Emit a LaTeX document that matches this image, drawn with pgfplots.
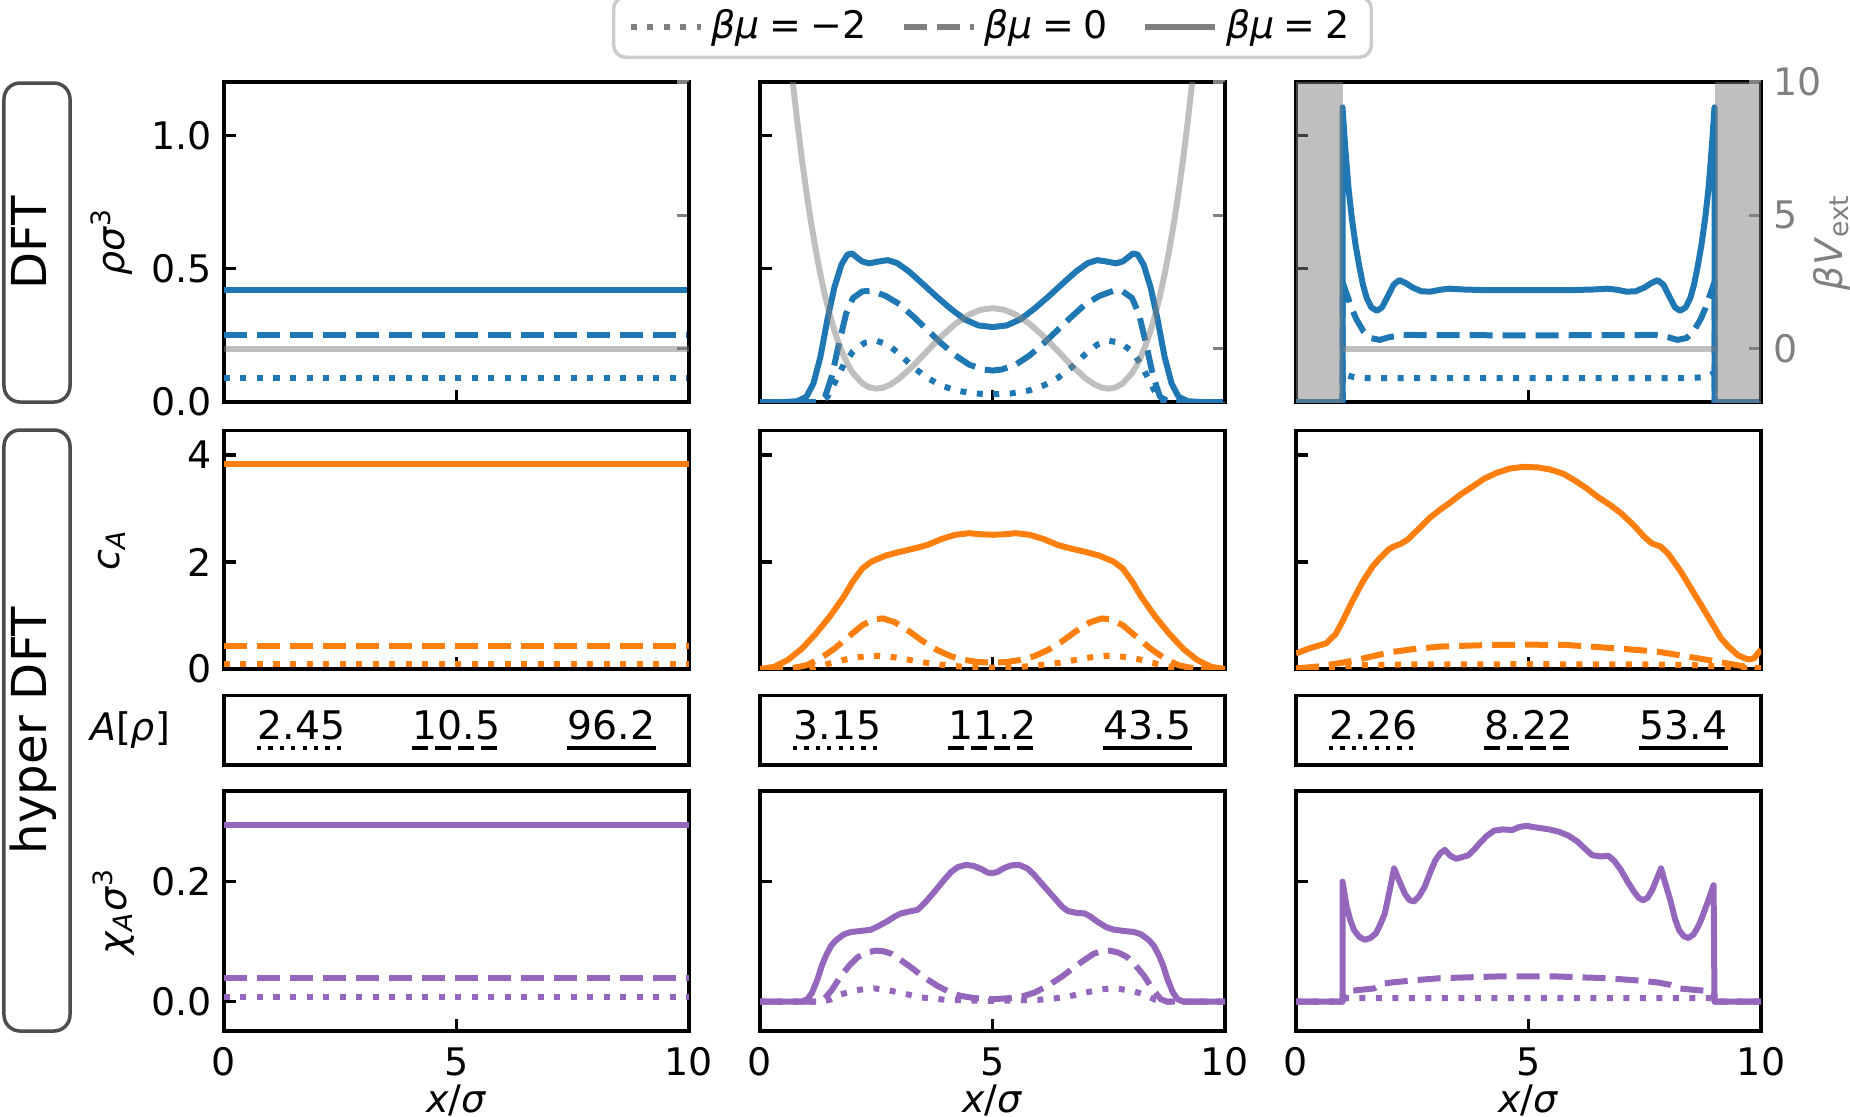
\documentclass[border=0pt]{standalone}
\usepackage{fontspec}
\setmainfont{DejaVu Sans}
\usepackage{pgfplots}
\pgfplotsset{compat=1.18}
\definecolor{C0}{HTML}{1F77B4}
\definecolor{C1}{HTML}{FF7F0E}
\definecolor{C4}{HTML}{9467BD}
\definecolor{grayV}{HTML}{808080}
\definecolor{legframe}{HTML}{CCCCCC}
\definecolor{sideedge}{HTML}{4D4D4D}
\newcommand\fsz{\fontsize{10.8}{13}\selectfont}
\newcommand\fszA{\fontsize{11.2}{13}\selectfont}
\newcommand\fszS{\fontsize{13.7}{16}\selectfont}
\pgfplotsset{
  panel/.style={scale only axis, width=46.5mm, anchor=north west, xmin=0, xmax=10,
    tick align=inside, xtick={0,5,10}, xtick pos=left, ytick pos=left,
    major tick length=1.2mm, major tick style={black, line width=0.95pt},
    axis line style={line width=1.1pt},
    /pgf/number format/assume math mode=true,
    xticklabel style={yshift=-0.4mm},
    ylabel style={at={(axis description cs:-0.241,0.5)}, anchor=center, inner sep=0pt},
    every axis plot/.append style={line width=0.6mm, line cap=butt, line join=round}},
  vax/.style={scale only axis, width=46.5mm, height=32mm, anchor=north west, xmin=0, xmax=10,
    ymin=-2, ymax=10, axis x line=none, axis y line*=right, ytick={0,5,10},
    tick align=inside, major tick length=1.2mm, major tick style={grayV, line width=0.95pt},
    axis line style={-, line width=1.1pt, black}, yticklabel style={grayV},
    /pgf/number format/assume math mode=true,
    every axis plot/.append style={line width=0.6mm, line cap=butt, line join=round}},
  lsol/.style={},
  ldash/.style={dash pattern=on 2.3mm off 1.0mm},
  ldot/.style={dash pattern=on 0.6mm off 1.05mm},
  vline/.style={grayV, opacity=0.5},
  rowone/.style={panel, height=32mm, ymin=0, ymax=1.2, ytick={0,0.5,1}, xticklabels={},
    yticklabel style={/pgf/number format/.cd, fixed, fixed zerofill, precision=1}},
  rowtwo/.style={panel, height=23.85mm, ymin=0, ymax=4.46, ytick={0,2,4}, xticklabels={}},
  rowfour/.style={panel, height=24mm, ymin=-0.049, ymax=0.351, ytick={0,0.2},
    xlabel={\textit{x}/\textit{σ}},
    xlabel style={at={(axis description cs:0.5,0)}, anchor=north, yshift=-4.1mm},
    yticklabel style={/pgf/number format/.cd, fixed, fixed zerofill, precision=1}},
  abox/.style={scale only axis, width=46.5mm, height=6.95mm, anchor=north west,
    xmin=0, xmax=1, ymin=0, ymax=1, ticks=none, axis line style={line width=1.1pt}, clip=false},
}
\begin{document}
\begin{tikzpicture}[font=\fsz]
\path[use as bounding box] (0,0) rectangle (185mm,-111.6mm);

% side labels
\draw[sideedge, line width=0.35mm, rounded corners=1.6mm] (0.4mm,-8.3mm) rectangle (7.0mm,-40.2mm);
\node[rotate=90, inner sep=0pt, text height=0.76em, text depth=0.24em, font=\fszS] at (3.75mm,-24.25mm) {DFT};
\draw[sideedge, line width=0.35mm, rounded corners=1.6mm] (0.4mm,-43.0mm) rectangle (7.0mm,-103.1mm);
\node[rotate=90, inner sep=0pt, text height=0.76em, text depth=0.24em, font=\fszS] at (3.75mm,-73.05mm) {hyper DFT};
\node[inner sep=0pt] at (13.0mm,-73.0mm) {\textit{A}[\textit{ρ}]};

% ================= ROW 1 =================
% col 1
\begin{axis}[rowone, at={(22.4mm,-8.2mm)}, ylabel={\textit{ρσ}\textsuperscript{3}}]
\addplot[C0, lsol] coordinates {(0,0.42) (10,0.42)};
\addplot[C0, ldash] coordinates {(0,0.25) (10,0.25)};
\addplot[C0, ldot] coordinates {(0,0.09) (10,0.09)};
\end{axis}
\begin{axis}[vax, at={(22.4mm,-8.2mm)}, yticklabels={}]
\addplot[vline] coordinates {(0,0) (10,0)};
\end{axis}

% col 2
\begin{axis}[rowone, at={(76.0mm,-8.2mm)}, yticklabels={},
  legend columns=3, legend cell align=left,
  legend image code/.code={\draw[#1] (0mm,0mm) -- (7mm,0mm);},
  legend style={at={(0.5,1)}, anchor=south, yshift=2.3mm, draw=legframe, line width=0.35mm,
    rounded corners=1.2mm, inner xsep=1.4mm, inner ysep=0.2mm, font=\fsz,
    nodes={inner xsep=0.8mm, inner ysep=1.1mm},
    /tikz/every even column/.append style={column sep=2.6mm}}]
\addlegendimage{grayV, line width=0.6mm, line cap=butt, dash pattern=on 0.6mm off 1.05mm}
\addlegendentry{\textit{βμ}\hspace{0.25em}=\hspace{0.25em}−2}
\addlegendimage{grayV, line width=0.6mm, line cap=butt, dash pattern=on 2.3mm off 1.0mm}
\addlegendentry{\textit{βμ}\hspace{0.25em}=\hspace{0.25em}0}
\addlegendimage{grayV, line width=0.6mm, line cap=butt}
\addlegendentry{\textit{βμ}\hspace{0.25em}=\hspace{0.25em}2}
\addplot[C0, lsol] coordinates {(0,0) (0.5,0) (0.8,0.003) (1.0,0.02) (1.15,0.07) (1.3,0.17) (1.45,0.31) (1.6,0.43) (1.75,0.515) (1.88,0.553) (1.98,0.557) (2.1,0.54) (2.2,0.527) (2.35,0.52) (2.55,0.527) (2.75,0.532) (2.95,0.521) (3.2,0.49) (3.5,0.443) (3.8,0.395) (4.1,0.35) (4.4,0.31) (4.7,0.287) (5.0,0.281) (5.3,0.287) (5.6,0.31) (5.9,0.35) (6.2,0.395) (6.5,0.443) (6.8,0.49) (7.05,0.521) (7.25,0.532) (7.45,0.527) (7.65,0.52) (7.8,0.527) (7.9,0.54) (8.02,0.557) (8.12,0.553) (8.25,0.515) (8.4,0.43) (8.55,0.31) (8.7,0.17) (8.85,0.07) (9.0,0.02) (9.2,0.003) (9.5,0) (10,0)};
\addplot[C0, ldash] coordinates {(0,0) (1.2,0) (1.4,0.02) (1.55,0.1) (1.7,0.22) (1.85,0.33) (2.0,0.39) (2.2,0.415) (2.4,0.417) (2.7,0.398) (3.0,0.367) (3.3,0.32) (3.6,0.27) (3.9,0.22) (4.2,0.175) (4.5,0.14) (4.8,0.122) (5.0,0.118) (5.2,0.122) (5.5,0.14) (5.8,0.175) (6.1,0.22) (6.4,0.27) (6.7,0.32) (7.0,0.367) (7.3,0.398) (7.6,0.417) (7.8,0.415) (8.0,0.39) (8.15,0.33) (8.3,0.22) (8.45,0.1) (8.6,0.02) (8.8,0) (10,0)};
\addplot[C0, ldot] coordinates {(0,0) (1.3,0) (1.45,0.02) (1.6,0.07) (1.8,0.14) (2.0,0.19) (2.25,0.222) (2.5,0.23) (2.75,0.215) (3.0,0.18) (3.3,0.13) (3.6,0.09) (3.9,0.062) (4.2,0.044) (4.6,0.032) (5.0,0.029) (5.4,0.032) (5.8,0.044) (6.1,0.062) (6.4,0.09) (6.7,0.13) (7.0,0.18) (7.25,0.215) (7.5,0.23) (7.75,0.222) (8.0,0.19) (8.2,0.14) (8.4,0.07) (8.55,0.02) (8.7,0) (10,0)};
\end{axis}
\begin{axis}[vax, at={(76.0mm,-8.2mm)}, yticklabels={}]
\addplot[vline] coordinates {(0.6,11.79) (0.7,10.08) (0.8,8.53) (0.9,7.12) (1.0,5.85) (1.1,4.71) (1.2,3.69) (1.3,2.78) (1.4,1.98) (1.5,1.28) (1.6,0.68) (1.7,0.16) (1.8,-0.27) (1.9,-0.63) (2.0,-0.92) (2.2,-1.30) (2.35,-1.45) (2.5,-1.5) (2.65,-1.46) (2.8,-1.35) (3.0,-1.11) (3.3,-0.63) (3.6,-0.08) (3.9,0.46) (4.2,0.93) (4.5,1.28) (4.75,1.46) (5.0,1.52) (5.25,1.46) (5.5,1.28) (5.8,0.93) (6.1,0.46) (6.4,-0.08) (6.7,-0.63) (7.0,-1.11) (7.2,-1.35) (7.35,-1.46) (7.5,-1.5) (7.65,-1.45) (7.8,-1.30) (8.0,-0.92) (8.1,-0.63) (8.2,-0.27) (8.3,0.16) (8.4,0.68) (8.5,1.28) (8.6,1.98) (8.7,2.78) (8.8,3.69) (8.9,4.71) (9.0,5.85) (9.1,7.12) (9.2,8.53) (9.3,10.08) (9.4,11.79)};
\end{axis}

% col 3
\begin{axis}[rowone, at={(129.6mm,-8.2mm)}, yticklabels={}]
\addplot[C0, lsol] coordinates {(0,0) (1.0,0) (1.0,1.105) (1.06,0.95) (1.13,0.80) (1.2,0.69) (1.28,0.59) (1.36,0.51) (1.44,0.44) (1.52,0.39) (1.62,0.355) (1.74,0.342) (1.85,0.355) (1.97,0.395) (2.1,0.44) (2.22,0.457) (2.36,0.446) (2.5,0.43) (2.7,0.415) (2.9,0.414) (3.1,0.421) (3.3,0.425) (3.6,0.422) (4.0,0.42) (6.0,0.42) (6.4,0.422) (6.7,0.425) (6.9,0.421) (7.1,0.414) (7.3,0.415) (7.5,0.43) (7.64,0.446) (7.78,0.457) (7.9,0.44) (8.03,0.395) (8.15,0.355) (8.26,0.342) (8.38,0.355) (8.48,0.39) (8.56,0.44) (8.64,0.51) (8.72,0.59) (8.8,0.69) (8.87,0.80) (8.94,0.95) (9.0,1.105) (9.0,0) (10,0)};
\addplot[C0, ldash] coordinates {(0,0) (1.0,0) (1.0,0.45) (1.1,0.40) (1.2,0.35) (1.3,0.31) (1.45,0.265) (1.6,0.24) (1.8,0.233) (2.0,0.243) (2.3,0.252) (2.7,0.251) (5,0.25) (7.3,0.251) (7.7,0.252) (8.0,0.243) (8.2,0.233) (8.4,0.24) (8.55,0.265) (8.7,0.31) (8.8,0.35) (8.9,0.40) (9.0,0.45) (9.0,0) (10,0)};
\addplot[C0, ldot] coordinates {(0,0) (1.0,0) (1.0,0.11) (1.1,0.1) (1.25,0.093) (1.5,0.09) (8.5,0.09) (8.75,0.093) (8.9,0.1) (9.0,0.11) (9.0,0) (10,0)};
\end{axis}
\begin{axis}[vax, at={(129.6mm,-8.2mm)}, ylabel={\textit{βV}\textsubscript{ext}},
  ylabel style={grayV, at={(axis description cs:1.153,0.5)}, anchor=center, inner sep=0pt}]
\addplot[fill=grayV, fill opacity=0.5, draw=none] coordinates {(0,-3) (1,-3) (1,11) (0,11)} -- cycle;
\addplot[fill=grayV, fill opacity=0.5, draw=none] coordinates {(9,-3) (10,-3) (10,11) (9,11)} -- cycle;
\addplot[vline] coordinates {(1,0) (9,0)};
\end{axis}

% ================= ROW 2 =================
\begin{axis}[rowtwo, at={(22.4mm,-43.05mm)}, ylabel={\textit{c}\textsubscript{\textit{A}}}]
\addplot[C1, lsol] coordinates {(0,3.83) (10,3.83)};
\addplot[C1, ldash] coordinates {(0,0.43) (10,0.43)};
\addplot[C1, ldot] coordinates {(0,0.09) (10,0.09)};
\end{axis}
\begin{axis}[rowtwo, at={(76.0mm,-43.05mm)}, yticklabels={}]
\addplot[C1, lsol] coordinates {(0,0) (0.3,0.04) (0.6,0.17) (0.9,0.38) (1.2,0.66) (1.5,0.98) (1.8,1.35) (2.0,1.64) (2.2,1.88) (2.4,2.01) (2.7,2.12) (3.0,2.19) (3.3,2.25) (3.6,2.32) (3.9,2.43) (4.2,2.51) (4.5,2.54) (4.75,2.52) (5.0,2.51) (5.25,2.52) (5.5,2.54) (5.8,2.51) (6.1,2.43) (6.4,2.32) (6.7,2.25) (7.0,2.19) (7.3,2.12) (7.6,2.01) (7.8,1.88) (8.0,1.64) (8.2,1.35) (8.5,0.98) (8.8,0.66) (9.1,0.38) (9.4,0.17) (9.7,0.04) (10,0)};
\addplot[C1, ldash] coordinates {(0,0) (0.6,0) (1.0,0.07) (1.3,0.2) (1.6,0.38) (1.9,0.6) (2.2,0.82) (2.45,0.93) (2.65,0.945) (2.9,0.875) (3.2,0.71) (3.5,0.52) (3.8,0.36) (4.1,0.24) (4.4,0.17) (4.7,0.13) (5.0,0.12) (5.3,0.13) (5.6,0.17) (5.9,0.24) (6.2,0.36) (6.5,0.52) (6.8,0.71) (7.1,0.875) (7.35,0.945) (7.55,0.93) (7.8,0.82) (8.1,0.6) (8.4,0.38) (8.7,0.2) (9.0,0.07) (9.4,0) (10,0)};
\addplot[C1, ldot] coordinates {(0,0) (0.8,0) (1.1,0.02) (1.4,0.08) (1.7,0.15) (2.0,0.21) (2.3,0.24) (2.55,0.245) (2.8,0.23) (3.1,0.19) (3.4,0.14) (3.7,0.1) (4.0,0.07) (4.4,0.04) (4.7,0.03) (5.0,0.025) (5.3,0.03) (5.6,0.04) (6.0,0.07) (6.3,0.1) (6.6,0.14) (6.9,0.19) (7.2,0.23) (7.45,0.245) (7.7,0.24) (8.0,0.21) (8.3,0.15) (8.6,0.08) (8.9,0.02) (9.2,0) (10,0)};
\end{axis}
\begin{axis}[rowtwo, at={(129.6mm,-43.05mm)}, yticklabels={}]
\addplot[C1, lsol] coordinates {(0,0.29) (0.3,0.39) (0.65,0.48) (0.85,0.65) (1.0,0.89) (1.2,1.25) (1.44,1.64) (1.65,1.92) (1.8,2.07) (2.0,2.24) (2.1,2.29) (2.25,2.34) (2.4,2.42) (2.65,2.63) (2.88,2.83) (3.1,2.98) (3.31,3.11) (3.55,3.27) (3.81,3.42) (4.05,3.56) (4.32,3.67) (4.6,3.75) (4.89,3.78) (5.2,3.77) (5.47,3.73) (5.75,3.65) (5.97,3.54) (6.25,3.38) (6.47,3.23) (6.75,3.07) (6.98,2.92) (7.25,2.7) (7.48,2.48) (7.65,2.35) (7.84,2.29) (8.0,2.16) (8.27,1.83) (8.5,1.5) (8.71,1.2) (8.95,0.85) (9.14,0.575) (9.3,0.42) (9.5,0.26) (9.65,0.2) (9.75,0.18) (9.85,0.2) (9.96,0.32) (10,0.36)};
\addplot[C1, ldash] coordinates {(0,0.01) (0.5,0.05) (1.0,0.12) (1.3,0.17) (2.0,0.31) (2.5,0.37) (3.1,0.42) (4.17,0.45) (5.0,0.455) (5.8,0.45) (6.33,0.42) (7.0,0.38) (7.77,0.325) (8.3,0.25) (8.85,0.17) (9.3,0.1) (9.7,0.04) (10,0.01)};
\addplot[C1, ldot] coordinates {(0,0.005) (0.5,0.02) (1.0,0.05) (1.5,0.075) (2.5,0.085) (5,0.09) (7.5,0.085) (8.5,0.075) (9.0,0.05) (9.5,0.02) (10,0.005)};
\end{axis}

% ================= ROW 3 (A[rho]) =================
\begin{axis}[abox, at={(22.4mm,-69.55mm)}]
\node[inner sep=0pt, anchor=base, font=\fszA] (a1) at (axis cs:0.1667,0.362) {2.45};
\node[inner sep=0pt, anchor=base, font=\fszA] (a2) at (axis cs:0.5,0.362) {10.5};
\node[inner sep=0pt, anchor=base, font=\fszA] (a3) at (axis cs:0.8333,0.362) {96.2};
\draw[line width=0.4mm, dash pattern=on 0.42mm off 0.72mm] ([yshift=-0.8mm]a1.base west) -- ([yshift=-0.8mm]a1.base east);
\draw[line width=0.4mm, dash pattern=on 1.6mm off 0.7mm] ([yshift=-0.8mm]a2.base west) -- ([yshift=-0.8mm]a2.base east);
\draw[line width=0.4mm] ([yshift=-0.8mm]a3.base west) -- ([yshift=-0.8mm]a3.base east);
\end{axis}
\begin{axis}[abox, at={(76.0mm,-69.55mm)}]
\node[inner sep=0pt, anchor=base, font=\fszA] (b1) at (axis cs:0.1667,0.362) {3.15};
\node[inner sep=0pt, anchor=base, font=\fszA] (b2) at (axis cs:0.5,0.362) {11.2};
\node[inner sep=0pt, anchor=base, font=\fszA] (b3) at (axis cs:0.8333,0.362) {43.5};
\draw[line width=0.4mm, dash pattern=on 0.42mm off 0.72mm] ([yshift=-0.8mm]b1.base west) -- ([yshift=-0.8mm]b1.base east);
\draw[line width=0.4mm, dash pattern=on 1.6mm off 0.7mm] ([yshift=-0.8mm]b2.base west) -- ([yshift=-0.8mm]b2.base east);
\draw[line width=0.4mm] ([yshift=-0.8mm]b3.base west) -- ([yshift=-0.8mm]b3.base east);
\end{axis}
\begin{axis}[abox, at={(129.6mm,-69.55mm)}]
\node[inner sep=0pt, anchor=base, font=\fszA] (c1) at (axis cs:0.1667,0.362) {2.26};
\node[inner sep=0pt, anchor=base, font=\fszA] (c2) at (axis cs:0.5,0.362) {8.22};
\node[inner sep=0pt, anchor=base, font=\fszA] (c3) at (axis cs:0.8333,0.362) {53.4};
\draw[line width=0.4mm, dash pattern=on 0.42mm off 0.72mm] ([yshift=-0.8mm]c1.base west) -- ([yshift=-0.8mm]c1.base east);
\draw[line width=0.4mm, dash pattern=on 1.6mm off 0.7mm] ([yshift=-0.8mm]c2.base west) -- ([yshift=-0.8mm]c2.base east);
\draw[line width=0.4mm] ([yshift=-0.8mm]c3.base west) -- ([yshift=-0.8mm]c3.base east);
\end{axis}

% ================= ROW 4 =================
\begin{axis}[rowfour, at={(22.4mm,-79.1mm)}, ylabel={\textit{χ}\textsubscript{\textit{A}}\textit{σ}\textsuperscript{3}},
  ylabel style={at={(axis description cs:-0.237,0.5)}}]
\addplot[C4, lsol] coordinates {(0,0.295) (10,0.295)};
\addplot[C4, ldash] coordinates {(0,0.040) (10,0.040)};
\addplot[C4, ldot] coordinates {(0,0.007) (10,0.007)};
\end{axis}
\begin{axis}[rowfour, at={(76.0mm,-79.1mm)}, yticklabels={}]
\addplot[C4, lsol] coordinates {(0,0) (0.9,0) (1.02,0.004) (1.12,0.015) (1.24,0.038) (1.33,0.06) (1.42,0.077) (1.53,0.093) (1.63,0.102) (1.8,0.112) (1.95,0.116) (2.2,0.118) (2.39,0.12) (2.55,0.126) (2.74,0.134) (2.9,0.142) (3.03,0.147) (3.2,0.15) (3.39,0.153) (3.55,0.165) (3.75,0.183) (3.95,0.202) (4.11,0.216) (4.25,0.224) (4.43,0.228) (4.6,0.226) (4.76,0.221) (4.9,0.215) (5.0,0.214) (5.1,0.216) (5.26,0.223) (5.4,0.227) (5.57,0.228) (5.75,0.222) (5.9,0.211) (6.1,0.193) (6.34,0.172) (6.5,0.158) (6.62,0.151) (6.8,0.148) (6.98,0.147) (7.1,0.142) (7.26,0.133) (7.45,0.124) (7.61,0.12) (7.8,0.118) (8.05,0.116) (8.2,0.112) (8.37,0.102) (8.47,0.093) (8.58,0.077) (8.67,0.06) (8.76,0.038) (8.88,0.015) (8.98,0.004) (9.1,0) (10,0)};
\addplot[C4, ldash] coordinates {(0,0) (1.25,0) (1.38,0.004) (1.55,0.02) (1.74,0.043) (1.92,0.06) (2.1,0.074) (2.3,0.082) (2.49,0.085) (2.65,0.084) (2.82,0.08) (3.05,0.068) (3.25,0.057) (3.5,0.042) (3.82,0.026) (4.1,0.015) (4.32,0.0095) (4.6,0.006) (5.0,0.004) (5.4,0.006) (5.68,0.0095) (5.9,0.015) (6.18,0.026) (6.5,0.042) (6.75,0.057) (6.95,0.068) (7.18,0.08) (7.35,0.084) (7.51,0.085) (7.7,0.082) (7.9,0.074) (8.08,0.06) (8.26,0.043) (8.45,0.02) (8.62,0.004) (8.75,0) (10,0)};
\addplot[C4, ldot] coordinates {(0,0) (1.3,0) (1.5,0.003) (1.74,0.012) (2.0,0.018) (2.25,0.021) (2.46,0.022) (2.7,0.02) (3.0,0.015) (3.46,0.007) (4.0,0.003) (5.0,0.001) (6.0,0.003) (6.54,0.007) (7.0,0.015) (7.3,0.02) (7.54,0.022) (7.75,0.021) (8.0,0.018) (8.26,0.012) (8.5,0.003) (8.7,0) (10,0)};
\end{axis}
\begin{axis}[rowfour, at={(129.6mm,-79.1mm)}, yticklabels={}]
\addplot[C4, lsol] coordinates {(0,0) (1.0,0) (1.0,0.2) (1.09,0.158) (1.17,0.135) (1.25,0.119) (1.36,0.108) (1.48,0.103) (1.6,0.106) (1.72,0.114) (1.82,0.13) (1.91,0.147) (2.0,0.18) (2.11,0.222) (2.2,0.205) (2.34,0.18) (2.44,0.169) (2.54,0.167) (2.65,0.176) (2.77,0.192) (2.9,0.218) (3.0,0.236) (3.1,0.247) (3.2,0.253) (3.32,0.243) (3.44,0.238) (3.58,0.241) (3.71,0.244) (3.85,0.255) (3.95,0.264) (4.1,0.276) (4.26,0.285) (4.45,0.287) (4.65,0.286) (4.8,0.291) (4.96,0.293) (5.1,0.291) (5.27,0.289) (5.45,0.287) (5.66,0.283) (5.85,0.277) (6.05,0.267) (6.2,0.256) (6.37,0.244) (6.55,0.242) (6.72,0.243) (6.85,0.234) (6.99,0.219) (7.13,0.2) (7.27,0.183) (7.37,0.173) (7.46,0.169) (7.56,0.173) (7.66,0.186) (7.76,0.205) (7.85,0.222) (7.95,0.195) (8.05,0.169) (8.15,0.138) (8.24,0.119) (8.34,0.109) (8.44,0.106) (8.55,0.112) (8.64,0.124) (8.71,0.136) (8.85,0.165) (8.98,0.194) (9.0,0) (10,0)};
\addplot[C4, ldash] coordinates {(0,0) (1.0,0) (1.0,0.012) (1.05,0.017) (1.68,0.022) (1.85,0.03) (2.07,0.032) (2.6,0.036) (3.09,0.039) (4.34,0.042) (5.59,0.042) (6.68,0.039) (7.4,0.035) (7.77,0.032) (8.05,0.028) (8.24,0.022) (8.95,0.017) (9.0,0.012) (9.0,0) (10,0)};
\addplot[C4, ldot] coordinates {(0,0) (1.0,0) (1.0,0.004) (1.1,0.006) (5,0.006) (8.9,0.006) (9.0,0.004) (9.0,0) (10,0)};
\end{axis}
\end{tikzpicture}
\end{document}
